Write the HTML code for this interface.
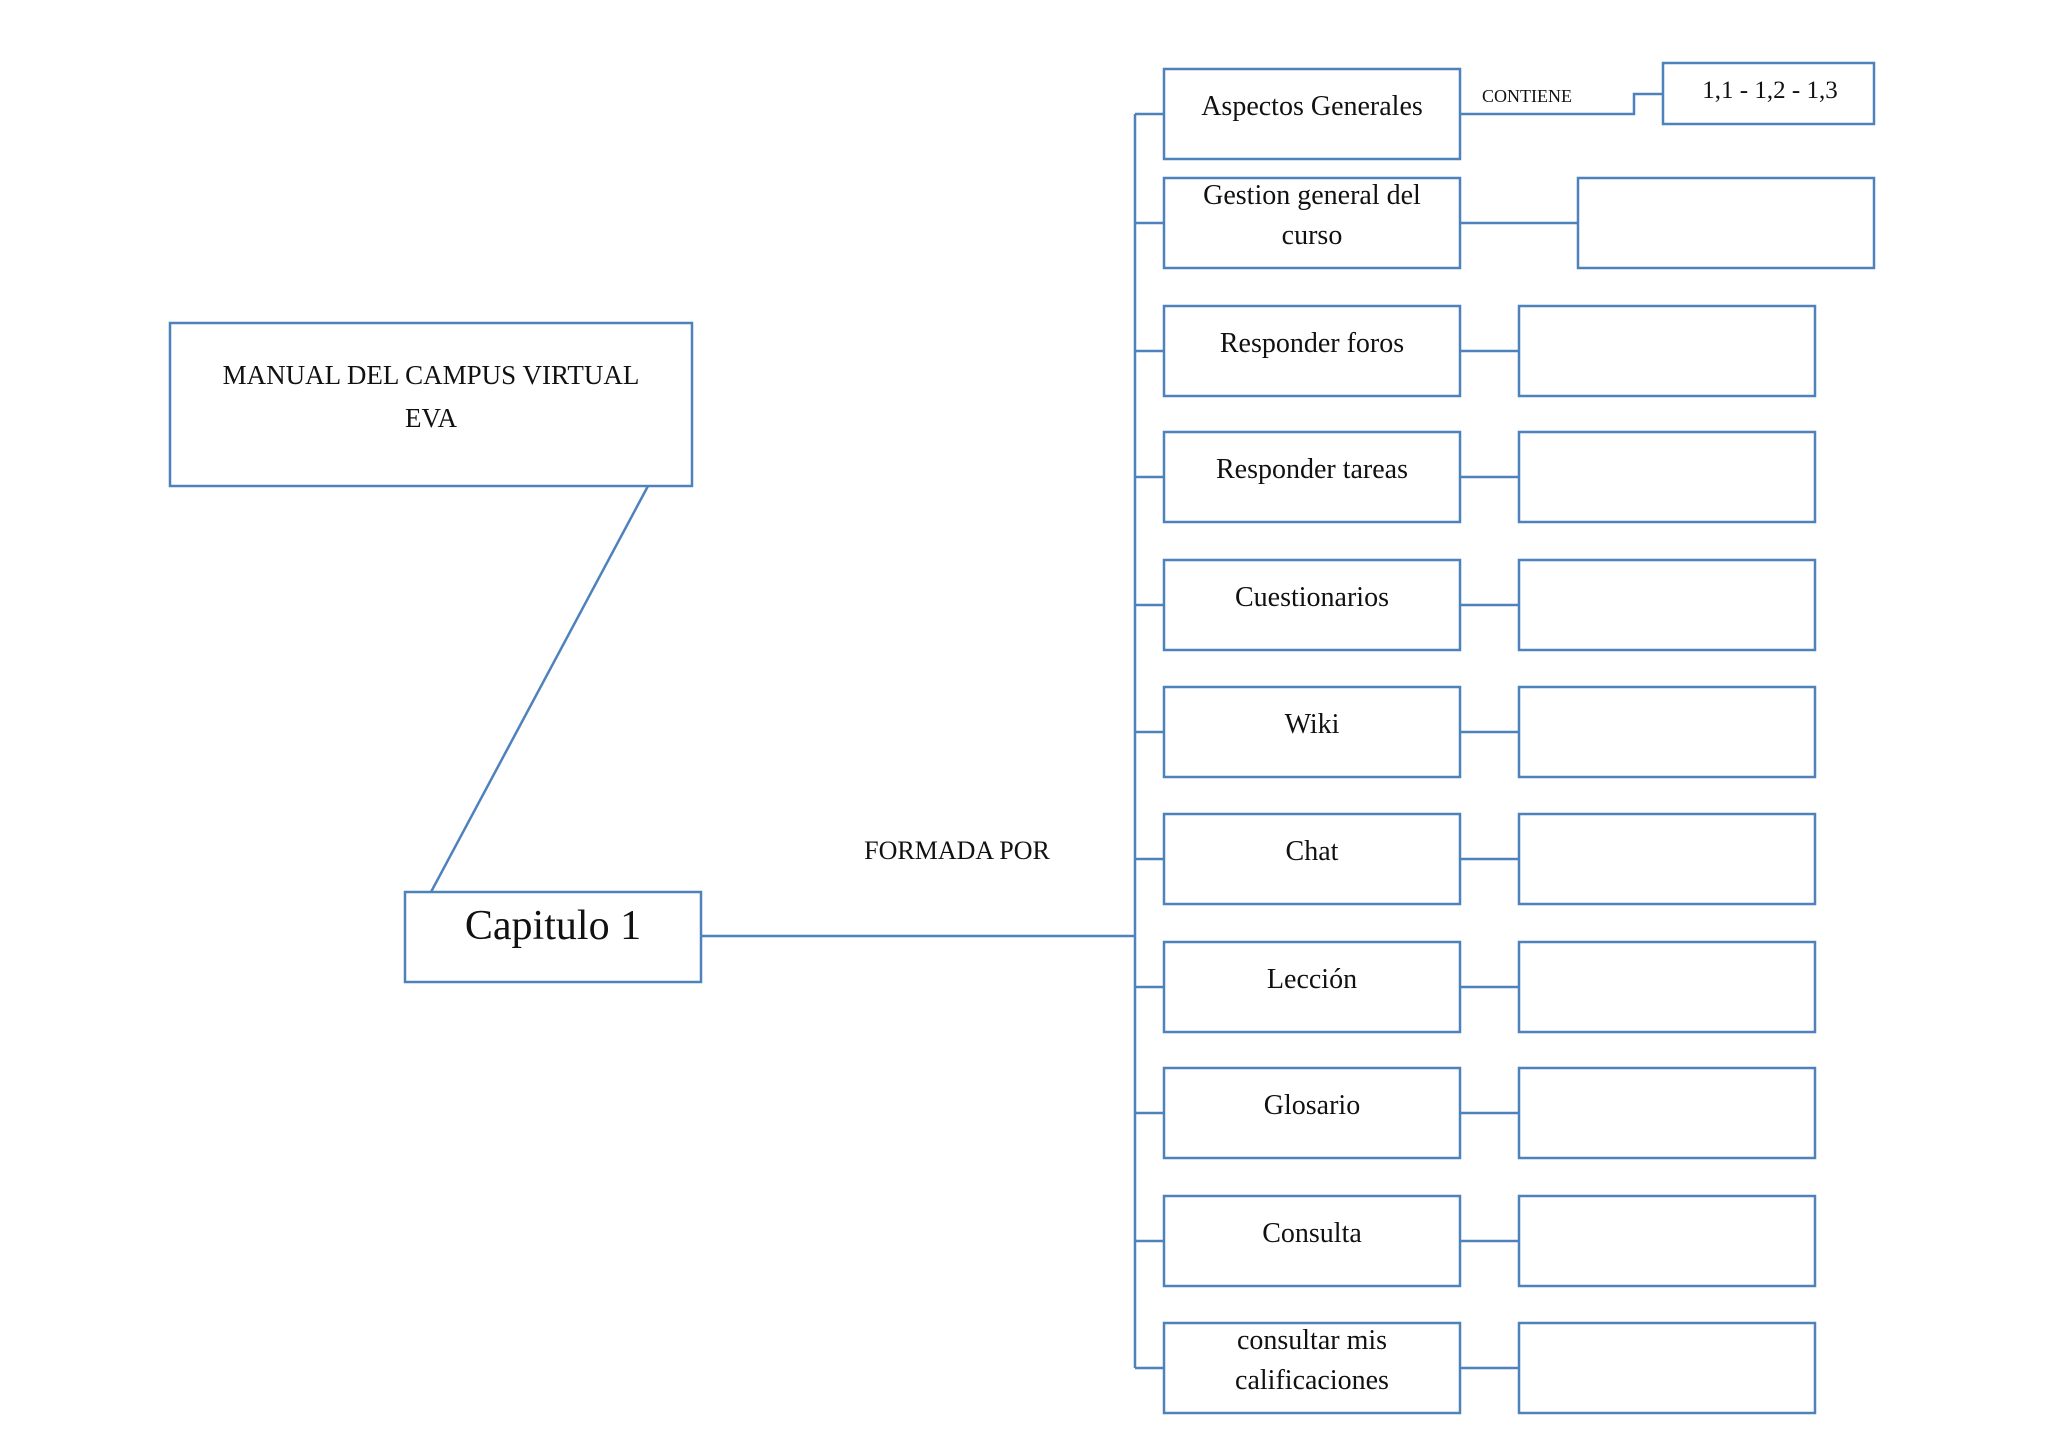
<!DOCTYPE html>
<html><head><meta charset="utf-8"><style>
html,body{margin:0;padding:0;background:#fff}
svg{display:block}
text{font-family:"Liberation Serif",serif;fill:#111}
</style></head><body>
<svg width="2048" height="1448" viewBox="0 0 2048 1448" xmlns="http://www.w3.org/2000/svg">
<g fill="none" stroke="#4f81bd" stroke-width="2.5">
<rect x="170" y="323" width="522" height="163"/>
<rect x="405" y="892" width="296" height="90"/>
<line x1="648" y1="486" x2="431" y2="892"/>
<line x1="701" y1="936" x2="1135" y2="936"/>
<line x1="1135" y1="114" x2="1135" y2="1368"/>
<rect x="1663" y="63" width="211" height="61"/>
<polyline points="1460,114 1634,114 1634,94 1663,94"/>
<rect x="1578" y="178" width="296" height="90"/>
<line x1="1460" y1="223" x2="1578" y2="223"/>
</g>
<g fill="none" stroke="#4f81bd" stroke-width="2.5" id="rows">
<rect x="1164" y="69" width="296" height="90"/><line x1="1135" y1="114" x2="1164" y2="114"/>
<rect x="1164" y="178" width="296" height="90"/><line x1="1135" y1="223" x2="1164" y2="223"/>
<rect x="1164" y="306" width="296" height="90"/><line x1="1135" y1="351" x2="1164" y2="351"/>
<rect x="1164" y="432" width="296" height="90"/><line x1="1135" y1="477" x2="1164" y2="477"/>
<rect x="1164" y="560" width="296" height="90"/><line x1="1135" y1="605" x2="1164" y2="605"/>
<rect x="1164" y="687" width="296" height="90"/><line x1="1135" y1="732" x2="1164" y2="732"/>
<rect x="1164" y="814" width="296" height="90"/><line x1="1135" y1="859" x2="1164" y2="859"/>
<rect x="1164" y="942" width="296" height="90"/><line x1="1135" y1="987" x2="1164" y2="987"/>
<rect x="1164" y="1068" width="296" height="90"/><line x1="1135" y1="1113" x2="1164" y2="1113"/>
<rect x="1164" y="1196" width="296" height="90"/><line x1="1135" y1="1241" x2="1164" y2="1241"/>
<rect x="1164" y="1323" width="296" height="90"/><line x1="1135" y1="1368" x2="1164" y2="1368"/>
<rect x="1519" y="306" width="296" height="90"/><line x1="1460" y1="351" x2="1519" y2="351"/>
<rect x="1519" y="432" width="296" height="90"/><line x1="1460" y1="477" x2="1519" y2="477"/>
<rect x="1519" y="560" width="296" height="90"/><line x1="1460" y1="605" x2="1519" y2="605"/>
<rect x="1519" y="687" width="296" height="90"/><line x1="1460" y1="732" x2="1519" y2="732"/>
<rect x="1519" y="814" width="296" height="90"/><line x1="1460" y1="859" x2="1519" y2="859"/>
<rect x="1519" y="942" width="296" height="90"/><line x1="1460" y1="987" x2="1519" y2="987"/>
<rect x="1519" y="1068" width="296" height="90"/><line x1="1460" y1="1113" x2="1519" y2="1113"/>
<rect x="1519" y="1196" width="296" height="90"/><line x1="1460" y1="1241" x2="1519" y2="1241"/>
<rect x="1519" y="1323" width="296" height="90"/><line x1="1460" y1="1368" x2="1519" y2="1368"/>
</g>
<g text-anchor="middle" font-size="28">
<text x="431" y="384" font-size="27">MANUAL DEL CAMPUS VIRTUAL</text>
<text x="431" y="427" font-size="27">EVA</text>
<text x="553" y="939" font-size="42">Capitulo 1</text>
<text x="957" y="859" font-size="26">FORMADA POR</text>
<text x="1527" y="102" font-size="18">CONTIENE</text>
<text x="1770" y="98" font-size="25">1,1 - 1,2 - 1,3</text>
<text x="1312" y="115">Aspectos Generales</text>
<text x="1312" y="204">Gestion general del</text>
<text x="1312" y="244">curso</text>
<text x="1312" y="352">Responder foros</text>
<text x="1312" y="478">Responder tareas</text>
<text x="1312" y="606">Cuestionarios</text>
<text x="1312" y="733">Wiki</text>
<text x="1312" y="860">Chat</text>
<text x="1312" y="988">Lección</text>
<text x="1312" y="1114">Glosario</text>
<text x="1312" y="1242">Consulta</text>
<text x="1312" y="1349">consultar mis</text>
<text x="1312" y="1389">calificaciones</text>
</g>
</svg>
</body></html>
